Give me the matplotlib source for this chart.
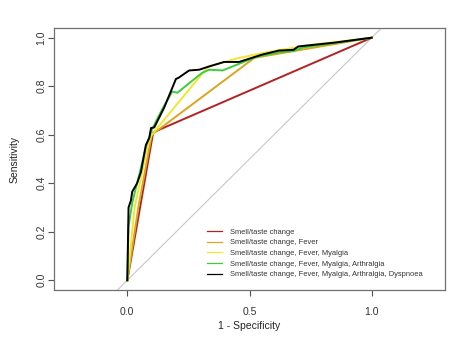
import matplotlib
matplotlib.use("Agg")
import matplotlib.pyplot as plt

plt.rcParams["font.family"] = ["Liberation Sans", "DejaVu Sans"]

# ROC curves: false positive rate (1 - specificity) vs sensitivity
labels = [
    "Smell/taste change",
    "Smell/taste change, Fever",
    "Smell/taste change, Fever, Myalgia",
    "Smell/taste change, Fever, Myalgia, Arthralgia",
    "Smell/taste change, Fever, Myalgia, Arthralgia, Dyspnoea",
]
colors = ["#b22222", "#daa520", "#f0e830", "#3ccc3c", "#000000"]

fpr_smell = [0, 0.106, 1]
tpr_smell = [0, 0.61, 1]

fpr_fever = [0, 0.045, 0.10, 0.52, 1]
tpr_fever = [0, 0.30, 0.60, 0.917, 1]

fpr_myalgia = [0, 0.03, 0.085, 0.10, 0.33, 0.45, 0.57, 0.75, 1]
tpr_myalgia = [0, 0.30, 0.56, 0.60, 0.88, 0.915, 0.94, 0.97, 1]

fpr_arthr = [0, 0.005, 0.02, 0.05, 0.076, 0.10, 0.14, 0.184, 0.205, 0.25, 0.306, 0.335, 0.39, 0.525, 0.62, 0.68, 0.72, 1]
tpr_arthr = [0, 0.22, 0.32, 0.44, 0.55, 0.62, 0.70, 0.778, 0.773, 0.81, 0.855, 0.868, 0.865, 0.92, 0.94, 0.945, 0.96, 1]

fpr_dysp = [0, 0.005, 0.015, 0.02, 0.04, 0.056, 0.076, 0.09, 0.097, 0.11, 0.15, 0.199, 0.21, 0.253, 0.294, 0.33, 0.396, 0.457, 0.55, 0.62, 0.68, 0.70, 0.85, 1]
tpr_dysp = [0, 0.30, 0.33, 0.365, 0.40, 0.447, 0.558, 0.587, 0.628, 0.63, 0.71, 0.83, 0.835, 0.865, 0.868, 0.88, 0.90, 0.90, 0.93, 0.947, 0.95, 0.964, 0.98, 1]

curves = [
    (fpr_smell, tpr_smell),
    (fpr_fever, tpr_fever),
    (fpr_myalgia, tpr_myalgia),
    (fpr_arthr, tpr_arthr),
    (fpr_dysp, tpr_dysp),
]

fig = plt.figure(figsize=(4.74, 3.45), dpi=100)
ax = fig.add_axes([54 / 474, 1 - 290 / 345, 391 / 474, 262 / 345])

# chance line
ax.axline((0, 0), (1, 1), color="#c8c8c8", lw=0.8, zorder=1)

for (fpr, tpr), c in zip(curves, colors):
    ax.plot(fpr, tpr, color=c, lw=1.4, zorder=2)

ax.set_xlim(-0.3, 1.3)
ax.set_ylim(-0.04, 1.04)

ax.set_xticks([0.0, 0.5, 1.0])
ax.set_xticklabels(["0.0", "0.5", "1.0"])
ax.set_yticks([0.0, 0.2, 0.4, 0.6, 0.8, 1.0])
ax.set_yticklabels(["0.0", "0.2", "0.4", "0.6", "0.8", "1.0"], rotation=90, va="center")

ax.tick_params(axis="both", length=4, width=0.8, color="#505050", labelsize=7.5, labelcolor="#333333")
ax.tick_params(axis="x", pad=8)
ax.tick_params(axis="y", pad=1.5)
for s in ax.spines.values():
    s.set_color("#707070")
    s.set_linewidth(0.9)

ax.set_xlabel("1 - Specificity", fontsize=7.5, color="#222222", labelpad=3)
ax.set_ylabel("Sensitivity", fontsize=7.5, color="#222222", labelpad=12)

handles = [plt.Line2D([], [], color=c, lw=0.9) for c in colors]
fig.legend(handles, labels, loc="upper left", bbox_to_anchor=(207 / 474, 1 - 228.5 / 345),
           frameon=False, fontsize=5.4, handlelength=2.0, handletextpad=1.0,
           labelspacing=0.45, borderpad=0, borderaxespad=0, labelcolor="#333333")

fig.savefig("out.png", dpi=100)
